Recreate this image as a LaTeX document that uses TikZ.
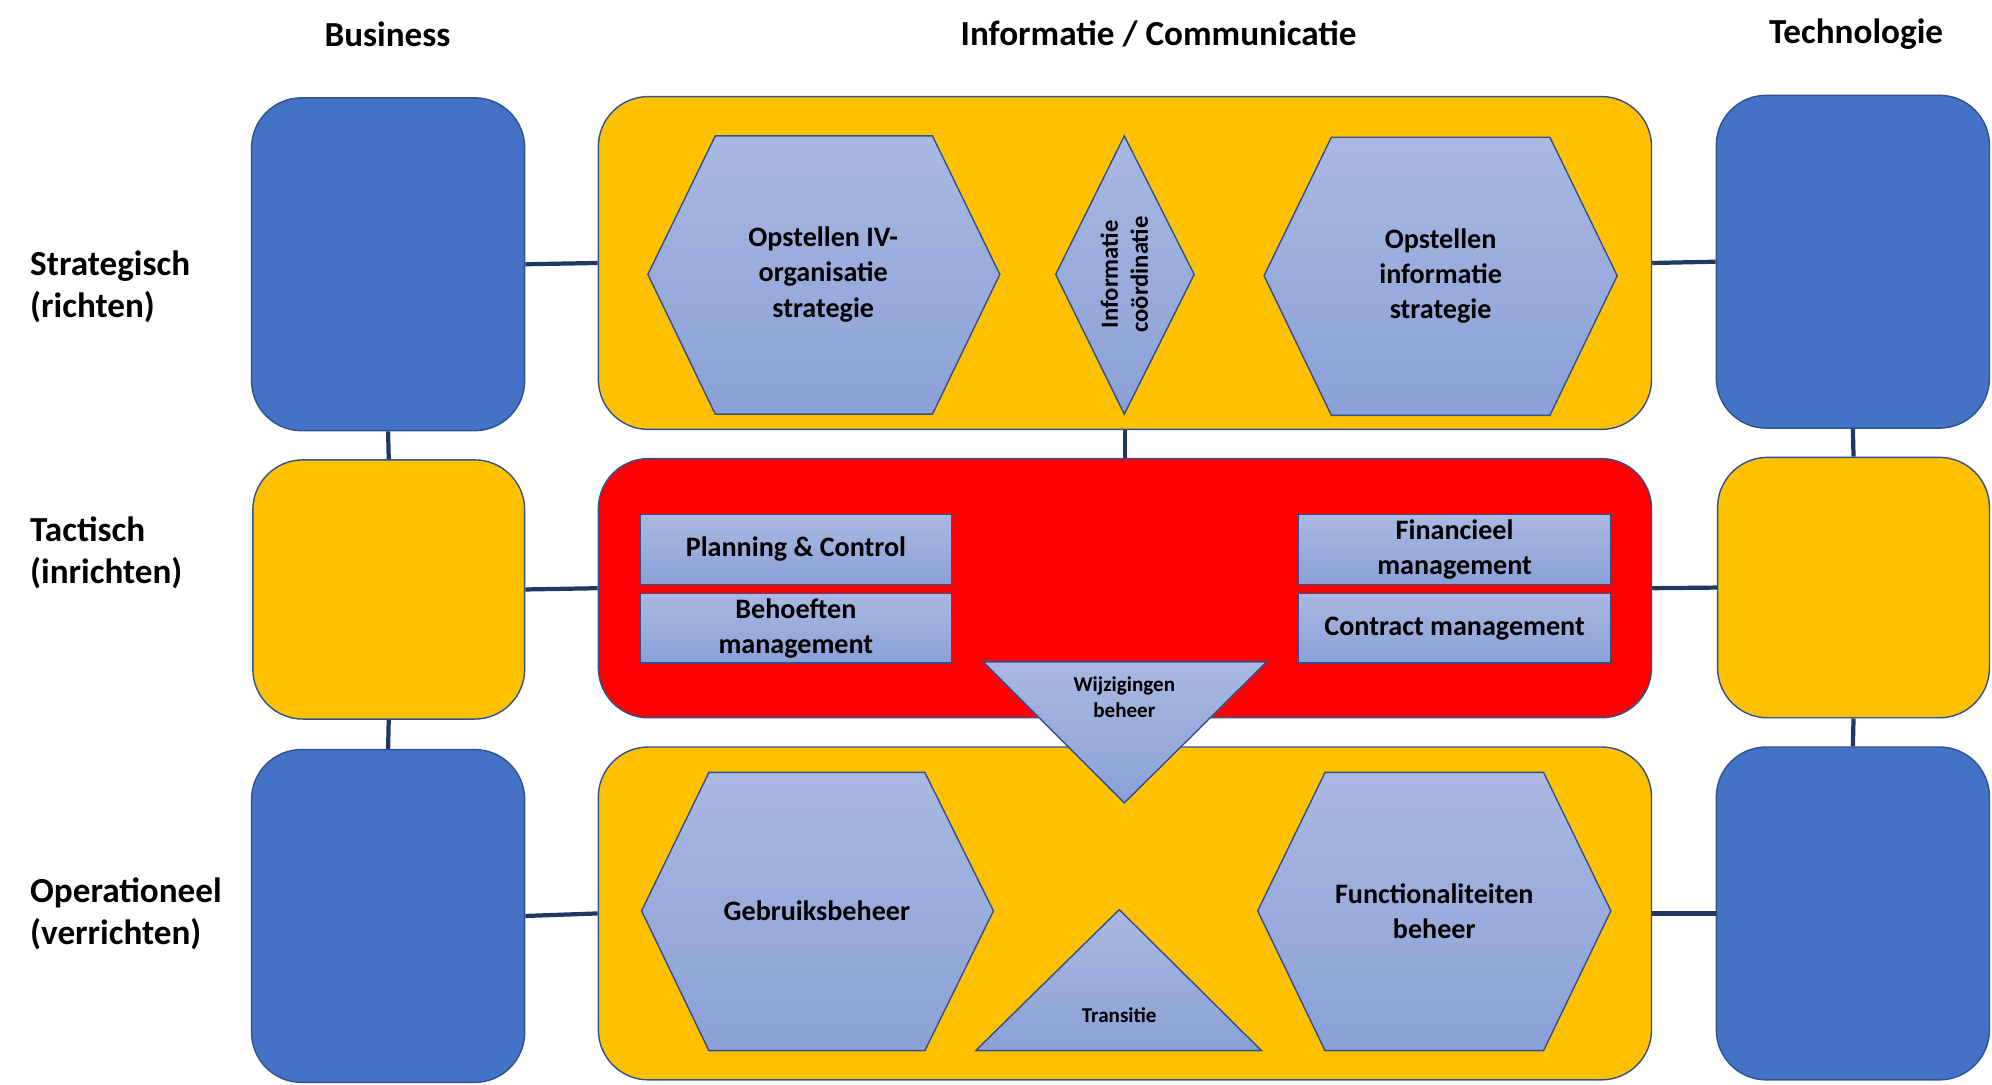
\documentclass[tikz,border=0pt]{standalone}
\usepackage{fontspec}
\setmainfont{Carlito}
\usetikzlibrary{positioning,calc,shapes}

\definecolor{boxblue}{HTML}{4472C4}
\definecolor{boxyellow}{HTML}{FFC000}
\definecolor{boxred}{HTML}{FF0000}
\definecolor{edgeblue}{HTML}{2F528F}
\definecolor{linkblue}{HTML}{1F3864}
\definecolor{shtop}{HTML}{AAB8E2}
\definecolor{shbot}{HTML}{8AA0D6}

\begin{document}
\begin{tikzpicture}[x=0.0127cm, y=-0.0127cm,
    box/.style={draw=edgeblue, rounded corners=0.5cm, inner sep=0pt},
    shp/.style={draw=edgeblue, top color=shtop, bottom color=shbot},
    link/.style={draw=linkblue, line width=1.2pt},
    head/.style={font=\bfseries\fontsize{10}{12}\selectfont},
    lab/.style={font=\bfseries\fontsize{8}{10}\selectfont, align=center},
    small/.style={font=\bfseries\fontsize{6}{7.5}\selectfont, align=center}]
    % vaste grenzen
    \useasboundingbox (0,0) rectangle (1568,854);

    % kolomkoppen
    \node[head] at (305,27) {Business};
    \node[head] at (912,27) {Informatie / Communicatie};
    \node[head] at (1461,27) {Technologie};

    % rijlabels
    \node[head, align=left, anchor=west] at (14,226) {Strategisch\\(richten)};
    \node[head, align=left, anchor=west] at (14,435) {Tactisch\\(inrichten)};
    \node[head, align=left, anchor=west] at (14,719) {Operationeel\\(verrichten)};

    % business kolom
    \node[box, fill=boxblue, minimum width=215*0.0127cm, minimum height=262*0.0127cm] (bs) at (305.5,208) {};
    \node[box, fill=boxyellow, minimum width=214*0.0127cm, minimum height=204*0.0127cm] (bt) at (306,464) {};
    \node[box, fill=boxblue, minimum width=215*0.0127cm, minimum height=262*0.0127cm] (bo) at (305.5,721) {};

    % technologie kolom
    \node[box, fill=boxblue, minimum width=215*0.0127cm, minimum height=262*0.0127cm] (ts) at (1458.5,206) {};
    \node[box, fill=boxyellow, minimum width=214*0.0127cm, minimum height=205*0.0127cm] (tt) at (1459,462.5) {};
    \node[box, fill=boxblue, minimum width=215*0.0127cm, minimum height=262*0.0127cm] (to) at (1458.5,719) {};

    % middenkolom
    \node[box, fill=boxyellow, minimum width=829*0.0127cm, minimum height=262*0.0127cm] (ms) at (885.5,207) {};
    \node[box, fill=boxred, minimum width=829*0.0127cm, minimum height=204*0.0127cm] (mt) at (885.5,463) {};
    \node[box, fill=boxyellow, minimum width=829*0.0127cm, minimum height=262*0.0127cm] (mo) at (885.5,719) {};

    % verbindingen
    \draw[link] (bs.east) -- (ms.west);
    \draw[link] (bt.east) -- (mt.west);
    \draw[link] (bo.east) -- (mo.west);
    \draw[link] (ms.east) -- (ts.west);
    \draw[link] (mt.east) -- (tt.west);
    \draw[link] (mo.east) -- (to.west);
    \draw[link] (bs.south) -- (bt.north);
    \draw[link] (bt.south) -- (bo.north);
    \draw[link] (ts.south) -- (tt.north);
    \draw[link] (tt.south) -- (to.north);
    \draw[link] (ms.south) -- (mt.north);

    % strategisch
    \path[shp] (510,216) -- (563,107) -- (734,107) -- (787,216) -- (734,326) -- (563,326) -- cycle;
    \node[lab] at (648,216) {Opstellen IV-\\organisatie\\strategie};
    \path[shp] (995,217) -- (1048,108) -- (1220,108) -- (1273,217) -- (1220,327) -- (1048,327) -- cycle;
    \node[lab] at (1134,217) {Opstellen\\informatie\\strategie};
    \path[shp] (885,107) -- (940,216) -- (885,326) -- (831,216) -- cycle;
    \node[small, rotate=90, font=\bfseries\fontsize{7}{8.5}\selectfont] at (885,216) {Informatie\\coördinatie};

    % tactisch
    \path[shp] (504,405) rectangle (749,460);
    \node[lab] at (626.5,432.5) {Planning \& Control};
    \path[shp] (504,467) rectangle (749,522);
    \node[lab] at (626.5,494.5) {Behoeften\\management};
    \path[shp] (1022,405) rectangle (1268,460);
    \node[lab] at (1145,432.5) {Financieel\\management};
    \path[shp] (1022,467) rectangle (1268,522);
    \node[lab] at (1145,494.5) {Contract management};
    \path[shp] (774,521) -- (997,521) -- (885,632) -- cycle;
    \node[small] at (885,549) {Wijzigingen\\beheer};

    % operationeel
    \path[shp] (505,717) -- (558,608) -- (728,608) -- (782,717) -- (728,827) -- (558,827) -- cycle;
    \node[lab] at (643,717) {Gebruiksbeheer};
    \path[shp] (990,717) -- (1043,608) -- (1215,608) -- (1268,717) -- (1215,827) -- (1043,827) -- cycle;
    \node[lab] at (1129,717) {Functionaliteiten\\beheer};
    \path[shp] (768,827) -- (993,827) -- (881,716) -- cycle;
    \node[small] at (881,799) {Transitie};
\end{tikzpicture}
\end{document}
